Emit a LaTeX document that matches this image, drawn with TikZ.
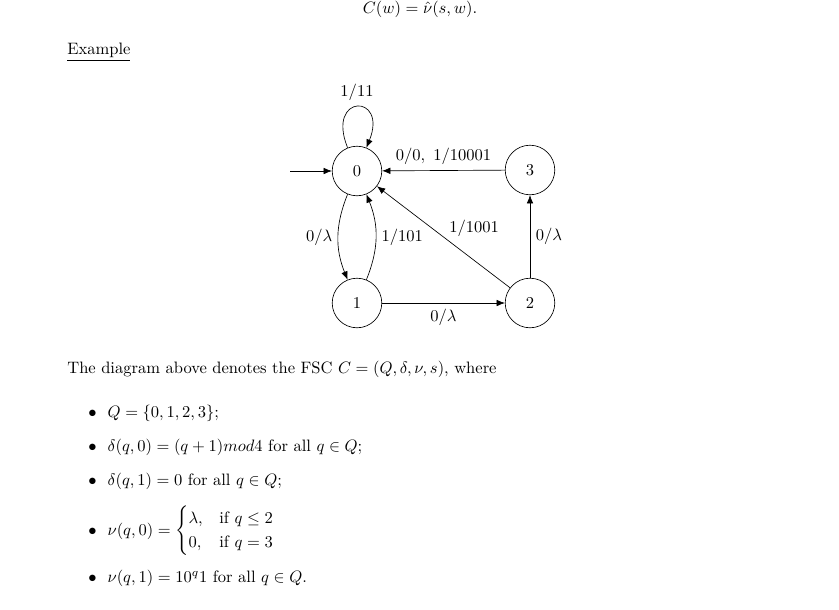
\documentclass[tikz,border=0pt]{standalone}
\usepackage{amsmath,amssymb}
\usetikzlibrary{arrows.meta}
\begin{document}
\begin{tikzpicture}[x=0.605pt,y=-0.605pt,
  st/.style={circle,draw,minimum size=30pt,inner sep=0pt},
  ed/.style={-{Latex[length=5pt,width=4pt]},thin},
  txt/.style={anchor=west,inner sep=0pt}]
\useasboundingbox (0,0) rectangle (839,610);
\node[inner sep=0pt] (eq) at (420,9) {$C(w)=\hat{\nu}(s,w).$};
\node[txt] (ex) at (67,52) {\underline{Example}};
\node[st] (n0) at (357,171) {0};
\node[st] (n1) at (357,303) {1};
\node[st] (n2) at (530,303) {2};
\node[st] (n3) at (530,170) {3};
\coordinate (in) at (290,171);
\draw[ed] (in) -- (n0);
\draw[ed] (n0) to[out=112,in=68,looseness=8] node[above] {$1/11$} (n0);
\draw[ed] (n3) -- node[above,pos=0.5] {$0/0,\ 1/10001$} (n0);
\draw[ed] (n0) to[bend right=22] node[left] {$0/\lambda$} (n1);
\draw[ed] (n1) to[bend right=22] node[right] {$1/101$} (n0);
\draw[ed] (n2) -- node[above right,pos=0.45,xshift=-4pt] {$1/1001$} (n0);
\draw[ed] (n2) -- node[right] {$0/\lambda$} (n3);
\draw[ed] (n1) -- node[below] {$0/\lambda$} (n2);
\node[txt] (t) at (67,369) {The diagram above denotes the FSC $C=(Q,\delta,\nu,s)$, where};
\node[txt] (b1) at (88,413) {$\bullet$\ \ $Q=\{0,1,2,3\}$;};
\node[txt] (b2) at (88,447) {$\bullet$\ \ $\delta(q,0)=(q+1)mod4$ for all $q\in Q$;};
\node[txt] (b3) at (88,481) {$\bullet$\ \ $\delta(q,1)=0$ for all $q\in Q$;};
\node[txt] (b4) at (88,531) {$\bullet$\ \ $\nu(q,0)=\begin{cases}\lambda, & \text{if } q\le 2\\ 0, & \text{if } q=3\end{cases}$};
\node[txt] (b5) at (88,578) {$\bullet$\ \ $\nu(q,1)=10^q1$ for all $q\in Q$.};
\end{tikzpicture}
\end{document}
